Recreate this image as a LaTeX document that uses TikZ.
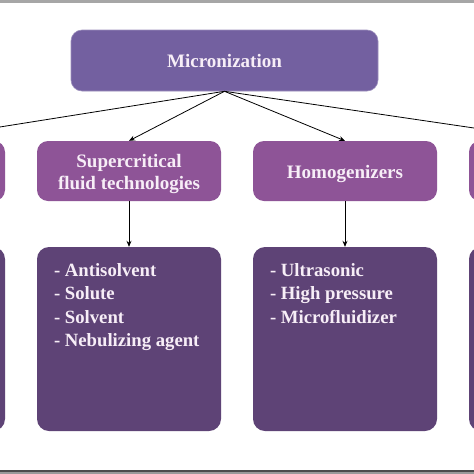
\documentclass[tikz,border=0pt]{standalone}
\usepackage{fontspec}
\setmainfont{Liberation Serif}
\usetikzlibrary{arrows.meta}
\definecolor{topc}{HTML}{7360A0}
\definecolor{midc}{HTML}{8E5497}
\definecolor{botc}{HTML}{5E4376}
\definecolor{txtc}{HTML}{F7EEF7}
\tikzset{
  topbox/.style={fill=topc, draw=topc!70!white, line width=0.6pt, rounded corners=11pt, minimum width=307pt, minimum height=61pt, inner sep=0pt, text=txtc, font=\bfseries\fontsize{19}{22}\selectfont},
  midbox/.style={fill=midc, rounded corners=11pt, minimum width=184pt, minimum height=60pt, inner sep=0pt},
  midlabel/.style={inner sep=0pt, text=txtc, align=center, font=\bfseries\fontsize{19}{22}\selectfont},
  botbox/.style={fill=botc, rounded corners=12pt, minimum width=184pt, minimum height=184pt, inner sep=0pt},
  listtext/.style={anchor=north west, inner sep=0pt, text=txtc, align=left, font=\bfseries\fontsize{18.7}{23.5}\selectfont},
  conn/.style={draw=black, line width=0.8pt, -{Stealth[length=6pt,width=5pt]}},
}
\begin{document}
\begin{tikzpicture}[x=1pt,y=-1pt]
\useasboundingbox (0,0) rectangle (474,474);
\fill[white] (0,0) rectangle (474,474);
\fill[black!35] (0,0) rectangle (474,2.5);
\fill[black!40] (0,471) rectangle (474,474);
\fill[black!70] (0,470.3) rectangle (474,471.6);

\node[topbox] (top) at (224.5,60.5) {Micronization};

\node[midbox] (m0) at (-87,171) {};
\node[midbox] (m1) at (129,171) {};
\node[midbox] (m2) at (345,171) {};
\node[midbox] (m3) at (561,171) {};
\node[midlabel] (t1) at ([yshift=-3pt]m1.center) {Supercritical\\fluid technologies};
\node[midlabel] (t2) at ([yshift=-3pt]m2.center) {Homogenizers};

\node[botbox] (b0) at (-87,339) {};
\node[botbox] (b1) at (129,339) {};
\node[botbox] (b2) at (345,339) {};
\node[botbox] (b3) at (561,339) {};

\node[listtext] (l1) at ([xshift=17pt,yshift=-16.5pt]b1.north west) {- Antisolvent\\- Solute\\- Solvent\\- Nebulizing agent};
\node[listtext] (l2) at ([xshift=17pt,yshift=-16.5pt]b2.north west) {- Ultrasonic\\- High pressure\\- Microfluidizer};

\draw[conn] (top.south) -- (m0.north);
\draw[conn] (top.south) -- (m1.north);
\draw[conn] (top.south) -- (m2.north);
\draw[conn] (top.south) -- (m3.north);

\draw[conn] (m0.south) -- (b0.north);
\draw[conn] (m1.south) -- (b1.north);
\draw[conn] (m2.south) -- (b2.north);
\draw[conn] (m3.south) -- (b3.north);
\end{tikzpicture}
\end{document}
